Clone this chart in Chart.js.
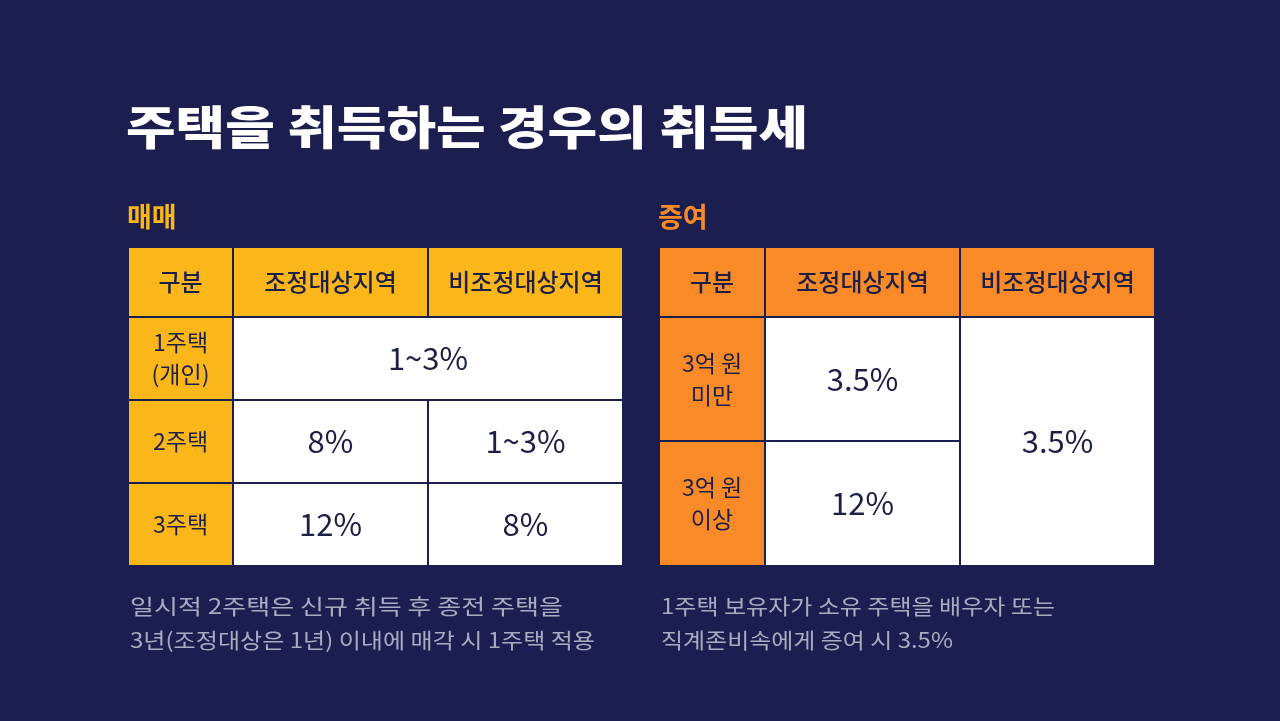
<!DOCTYPE html>
<html><head><meta charset="utf-8">
<script src="https://cdn.jsdelivr.net/npm/chart.js@4/dist/chart.umd.min.js"></script>
<style>html,body{margin:0;padding:0;background:#1b1e4f;overflow:hidden}#w{width:1280px;height:721px}</style>
</head><body><div id="w"><canvas id="c"></canvas></div>
<script>
const title = "주택을 취득하는 경우의 취득세";
const leftTitle = "매매";
const rightTitle = "증여";
const headers = ["구분", "조정대상지역", "비조정대상지역"];
const leftRows = ["1주택\n(개인)", "2주택", "3주택"];
const leftAdjusted = ["1~3%", "8%", "12%"];
const leftNonAdjusted = ["1~3%", "1~3%", "8%"]; // row 1 merged
const rightRows = ["3억 원\n미만", "3억 원\n이상"];
const rightAdjusted = ["3.5%", "12%"];
const rightNonAdjusted = "3.5%"; // merged
const leftNote = ["일시적 2주택은 신규 취득 후 종전 주택을", "3년(조정대상은 1년) 이내에 매각 시 1주택 적용"];
const rightNote = ["1주택 보유자가 소유 주택을 배우자 또는", "직계존비속에게 증여 시 3.5%"];

const F = '"Noto Sans CJK KR","Noto Sans",sans-serif';
const YEL = '#fbb719', ORG = '#f98a28', NAVY = '#1b1e4f', INK = '#1d1f45';

const tablePlugin = {
  id: 'tables',
  afterDraw(chart) {
    const ctx = chart.ctx, X = v => chart.scales.x.getPixelForValue(v), Y = v => chart.scales.y.getPixelForValue(v);
    function fitText(t, x, y, w) {
      ctx.save();
      const m = ctx.measureText(t).width;
      ctx.translate(x, y); ctx.scale(w / m, 1); ctx.fillText(t, 0, 0);
      ctx.restore();
    }
    function cell(x0, y0, x1, y1, fill, text, size, color, weight) {
      ctx.fillStyle = fill;
      ctx.fillRect(X(x0) + 1, Y(y0) + 1, X(x1) - X(x0) - 2, Y(y1) - Y(y0) - 2);
      const lines = text.split('\n');
      ctx.fillStyle = color; ctx.font = `${weight} ${size}px ${F}`;
      ctx.textAlign = 'center'; ctx.textBaseline = 'middle';
      const lh = size * 1.4, cx = (X(x0) + X(x1)) / 2, cy = (Y(y0) + Y(y1)) / 2;
      lines.forEach((l, i) => ctx.fillText(l, cx, cy + (i - (lines.length - 1) / 2) * lh));
    }
    ctx.save();
    ctx.fillStyle = '#fff'; ctx.font = `900 46px ${F}`; ctx.textAlign = 'left'; ctx.textBaseline = 'middle';
    fitText(title, X(126), Y(127), X(808) - X(126));
    ctx.font = `bold 27px ${F}`;
    ctx.fillStyle = YEL; ctx.fillText(leftTitle, X(127), Y(217));
    ctx.fillStyle = ORG; ctx.fillText(rightTitle, X(658), Y(217));

    const lc = [128, 233, 428, 623], lr = [247, 317, 400, 483, 566];
    ctx.fillStyle = NAVY; ctx.fillRect(X(lc[0]), Y(lr[0]), X(lc[3]) - X(lc[0]), Y(lr[4]) - Y(lr[0]));
    headers.forEach((h, i) => cell(lc[i], lr[0], lc[i + 1], lr[1], YEL, h, 24, INK, 500));
    leftRows.forEach((r, i) => {
      cell(lc[0], lr[i + 1], lc[1], lr[i + 2], YEL, r, 23, INK, 400);
      if (i === 0) cell(lc[1], lr[1], lc[3], lr[2], '#fff', leftAdjusted[0], 31, INK, 400);
      else {
        cell(lc[1], lr[i + 1], lc[2], lr[i + 2], '#fff', leftAdjusted[i], 31, INK, 400);
        cell(lc[2], lr[i + 1], lc[3], lr[i + 2], '#fff', leftNonAdjusted[i], 31, INK, 400);
      }
    });
    const rc = [659, 765, 960, 1155], rr = [247, 317, 441, 566];
    ctx.fillStyle = NAVY; ctx.fillRect(X(rc[0]), Y(rr[0]), X(rc[3]) - X(rc[0]), Y(rr[3]) - Y(rr[0]));
    headers.forEach((h, i) => cell(rc[i], rr[0], rc[i + 1], rr[1], ORG, h, 24, INK, 500));
    rightRows.forEach((r, i) => {
      cell(rc[0], rr[i + 1], rc[1], rr[i + 2], ORG, r, 23, INK, 400);
      cell(rc[1], rr[i + 1], rc[2], rr[i + 2], '#fff', rightAdjusted[i], 31, INK, 400);
    });
    cell(rc[2], rr[1], rc[3], rr[3], '#fff', rightNonAdjusted, 31, INK, 400);

    ctx.fillStyle = '#a9abc2'; ctx.font = `400 21px ${F}`; ctx.textAlign = 'left'; ctx.textBaseline = 'middle';
    const lw = [X(563) - X(130), X(595) - X(130)], rw = [X(1055) - X(661), X(953) - X(661)];
    leftNote.forEach((t, i) => fitText(t, X(130), Y(606 + i * 34), lw[i]));
    rightNote.forEach((t, i) => fitText(t, X(661), Y(606 + i * 34), rw[i]));
    ctx.restore();
  }
};

new Chart(document.getElementById('c'), {
  type: 'scatter',
  data: { datasets: [{ data: [] }] },
  options: {
    responsive: true, maintainAspectRatio: false, animation: false,
    layout: { padding: 0 },
    plugins: { legend: { display: false }, tooltip: { enabled: false } },
    scales: {
      x: { type: 'linear', min: 0, max: 1280, display: false },
      y: { type: 'linear', min: 0, max: 721, reverse: true, display: false }
    }
  },
  plugins: [tablePlugin]
});
</script></body></html>
